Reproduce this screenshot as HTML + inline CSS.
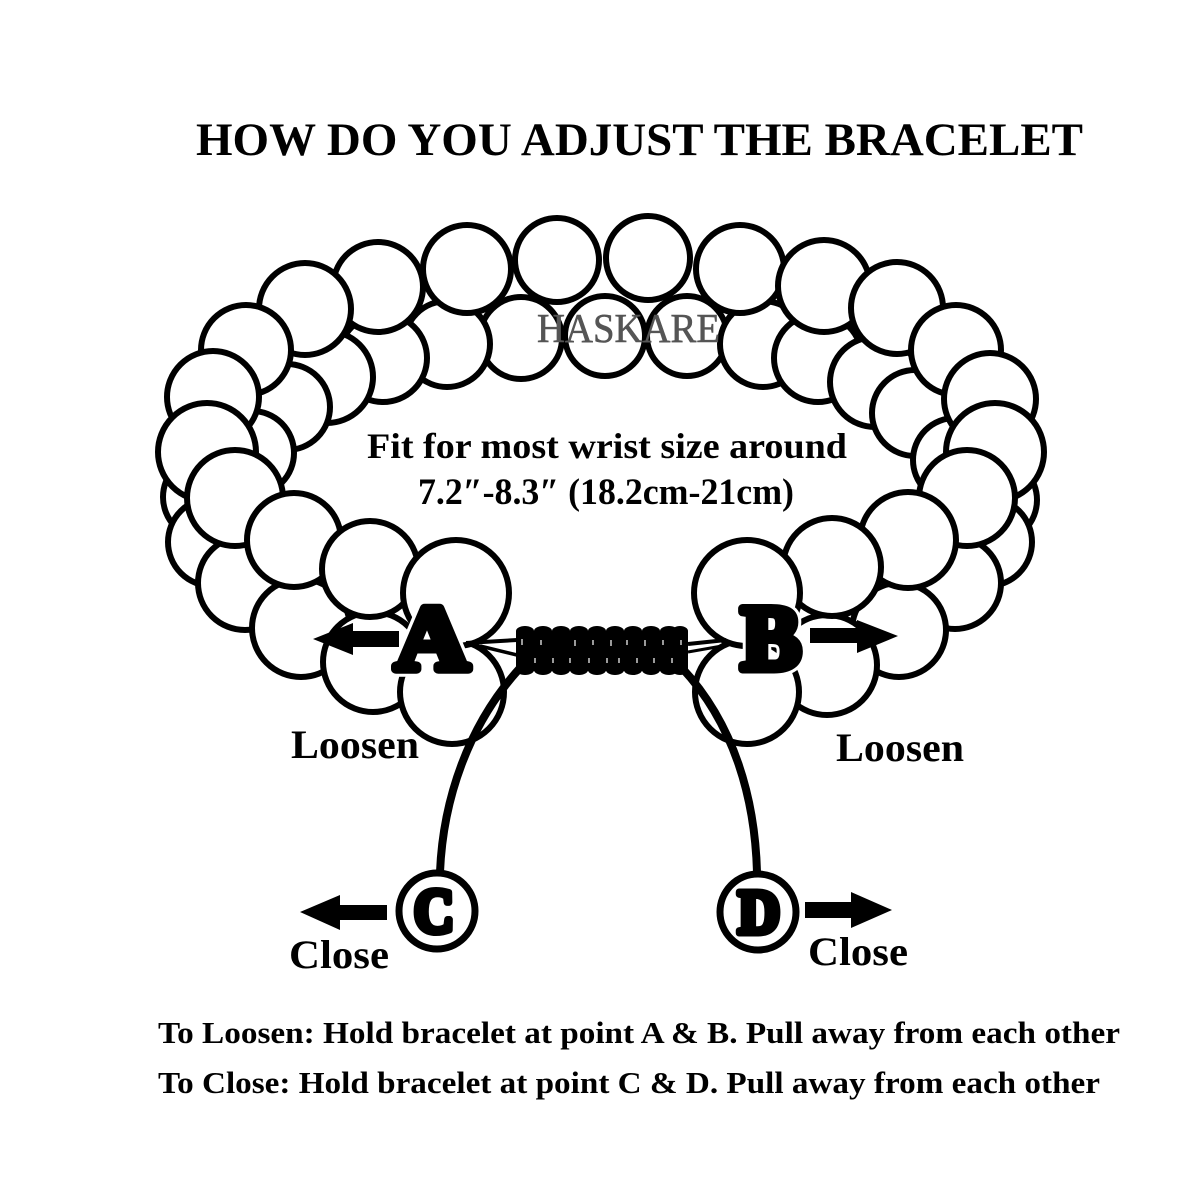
<!DOCTYPE html>
<html>
<head>
<meta charset="utf-8">
<style>
html,body{margin:0;padding:0;background:#fff;width:1200px;height:1200px;overflow:hidden}
svg{display:block}
text{font-family:"Liberation Serif",serif;fill:#000}
.b{fill:#fff;stroke:#000;stroke-width:6}
.t{font-weight:bold}
</style>
</head>
<body>
<svg width="1200" height="1200" viewBox="0 0 1200 1200" xmlns="http://www.w3.org/2000/svg">
<rect width="1200" height="1200" fill="#fff"/>
<text class="t" x="196" y="155" font-size="47" textLength="887" lengthAdjust="spacingAndGlyphs">HOW DO YOU ADJUST THE BRACELET</text>

<!-- back row left -->
<g>
<circle class="b" cx="521" cy="338" r="41"/>
<circle class="b" cx="447" cy="344" r="43"/>
<circle class="b" cx="383" cy="358" r="44"/>
<circle class="b" cx="327" cy="377" r="46"/>
<circle class="b" cx="287" cy="407" r="43"/>
<circle class="b" cx="252" cy="453" r="42"/>
<circle class="b" cx="205" cy="497" r="42"/>
<circle class="b" cx="212" cy="542" r="44"/>
<circle class="b" cx="245" cy="583" r="47"/>
<circle class="b" cx="301" cy="628" r="49"/>
<circle class="b" cx="373" cy="662" r="50"/>
<circle class="b" cx="452" cy="692" r="52"/>
</g>
<!-- back row right -->
<g>
<circle class="b" cx="605" cy="336" r="40"/>
<circle class="b" cx="687" cy="336" r="40"/>
<circle class="b" cx="763" cy="344" r="43"/>
<circle class="b" cx="818" cy="358" r="44"/>
<circle class="b" cx="875" cy="382" r="45"/>
<circle class="b" cx="915" cy="413" r="43"/>
<circle class="b" cx="955" cy="460" r="42"/>
<circle class="b" cx="995" cy="500" r="42"/>
<circle class="b" cx="988" cy="542" r="44"/>
<circle class="b" cx="955" cy="583" r="46"/>
<circle class="b" cx="899" cy="630" r="47"/>
<circle class="b" cx="827" cy="665" r="50"/>
<circle class="b" cx="747" cy="692" r="52"/>
</g>
<!-- front row left -->
<g>
<circle class="b" cx="378" cy="287" r="45"/>
<circle class="b" cx="467" cy="269" r="44"/>
<circle class="b" cx="557" cy="260" r="42"/>
<circle class="b" cx="305" cy="309" r="46"/>
<circle class="b" cx="246" cy="350" r="45"/>
<circle class="b" cx="213" cy="397" r="46"/>
<circle class="b" cx="207" cy="452" r="49"/>
<circle class="b" cx="235" cy="498" r="48"/>
<circle class="b" cx="294" cy="540" r="47"/>
<circle class="b" cx="370" cy="569" r="48"/>
<circle class="b" cx="456" cy="593" r="53"/>
</g>
<!-- front row right -->
<g>
<circle class="b" cx="740" cy="269" r="44"/>
<circle class="b" cx="648" cy="258" r="42"/>
<circle class="b" cx="824" cy="286" r="46"/>
<circle class="b" cx="897" cy="308" r="46"/>
<circle class="b" cx="956" cy="350" r="45"/>
<circle class="b" cx="990" cy="399" r="46"/>
<circle class="b" cx="995" cy="452" r="49"/>
<circle class="b" cx="967" cy="498" r="48"/>
<circle class="b" cx="908" cy="540" r="48"/>
<circle class="b" cx="832" cy="567" r="49"/>
<circle class="b" cx="747" cy="593" r="53"/>
</g>

<text x="537" y="342" font-size="41" style="fill:#555" stroke="#555" stroke-width=".6" textLength="183" lengthAdjust="spacingAndGlyphs">HASKARE</text>

<text class="t" x="367" y="458" font-size="36" textLength="480" lengthAdjust="spacingAndGlyphs">Fit for most wrist size around</text>
<text class="t" x="418" y="504" font-size="37" textLength="376" lengthAdjust="spacingAndGlyphs">7.2″-8.3″ (18.2cm-21cm)</text>

<!-- thin cords -->
<g stroke="#000" fill="none">
<path d="M466,643 L517,640" stroke-width="4"/>
<path d="M480,646 L517,655" stroke-width="3.5"/>
<path d="M688,644 L726,640" stroke-width="4"/>
<path d="M688,652 L722,646" stroke-width="3"/>
</g>

<!-- pull cords -->
<path d="M440,872 C443,800 468,725 520,668" fill="none" stroke="#000" stroke-width="8"/>
<path d="M757,872 C755,800 735,725 682,668" fill="none" stroke="#000" stroke-width="8"/>

<!-- knot -->
<g fill="#000">
<rect x="516" y="631" width="172" height="40"/>
<ellipse cx="525" cy="631" rx="9" ry="5"/><ellipse cx="543" cy="631" rx="9" ry="5"/><ellipse cx="561" cy="631" rx="9" ry="5"/><ellipse cx="579" cy="631" rx="9" ry="5"/><ellipse cx="597" cy="631" rx="9" ry="5"/><ellipse cx="615" cy="631" rx="9" ry="5"/><ellipse cx="633" cy="631" rx="9" ry="5"/><ellipse cx="651" cy="631" rx="9" ry="5"/><ellipse cx="669" cy="631" rx="9" ry="5"/><ellipse cx="680" cy="631" rx="8" ry="5"/>
<ellipse cx="525" cy="670" rx="9" ry="5"/><ellipse cx="543" cy="670" rx="9" ry="5"/><ellipse cx="561" cy="670" rx="9" ry="5"/><ellipse cx="579" cy="670" rx="9" ry="5"/><ellipse cx="597" cy="670" rx="9" ry="5"/><ellipse cx="615" cy="670" rx="9" ry="5"/><ellipse cx="633" cy="670" rx="9" ry="5"/><ellipse cx="651" cy="670" rx="9" ry="5"/><ellipse cx="669" cy="670" rx="9" ry="5"/><ellipse cx="680" cy="670" rx="8" ry="5"/>
</g>
<g stroke="#eee" stroke-width="1.3">
<path d="M522,639v6M541,640v5M575,640v6M593,640v5M611,640v6M627,640v5M645,640v6M663,640v5M681,640v5"/>
<path d="M535,658v5M553,658v5M570,658v5M589,658v5M607,658v5M619,658v5M637,658v5M654,658v5M672,658v5"/>
</g>

<!-- A / B letters -->
<text class="t" x="432" y="669" font-size="92" text-anchor="middle" stroke="#fff" stroke-width="15" stroke-linejoin="round" style="fill:#fff" textLength="74" lengthAdjust="spacingAndGlyphs">A</text>
<text class="t" x="432" y="669" font-size="92" text-anchor="middle" stroke="#000" stroke-width="9" stroke-linejoin="round" textLength="74" lengthAdjust="spacingAndGlyphs">A</text>
<text class="t" x="771" y="669" font-size="92" text-anchor="middle" stroke="#fff" stroke-width="15" stroke-linejoin="round" style="fill:#fff" textLength="60" lengthAdjust="spacingAndGlyphs">B</text>
<text class="t" x="771" y="669" font-size="92" text-anchor="middle" stroke="#000" stroke-width="9" stroke-linejoin="round" textLength="60" lengthAdjust="spacingAndGlyphs">B</text>

<!-- arrows -->
<polygon points="313,639 353,623 353,631 399,631 399,647 353,647 353,655" fill="#000"/>
<polygon points="898,636 857,620 857,628 810,628 810,643 857,643 857,653" fill="#000"/>
<polygon points="300,912 340,895 340,905 387,905 387,920 340,920 340,930" fill="#000"/>
<polygon points="892,910 851,892 851,902 805,902 805,918 851,918 851,928" fill="#000"/>

<!-- C / D badges -->
<circle cx="437" cy="911" r="38" fill="#fff" stroke="#000" stroke-width="7"/>
<circle cx="758" cy="912" r="38" fill="#fff" stroke="#000" stroke-width="7"/>
<text class="t" x="434" y="932" font-size="62" text-anchor="middle" stroke="#000" stroke-width="7" stroke-linejoin="round" textLength="40" lengthAdjust="spacingAndGlyphs">C</text>
<text class="t" x="759" y="933" font-size="62" text-anchor="middle" stroke="#000" stroke-width="7" stroke-linejoin="round" textLength="42" lengthAdjust="spacingAndGlyphs">D</text>

<text class="t" x="291" y="758" font-size="40" textLength="128" lengthAdjust="spacingAndGlyphs">Loosen</text>
<text class="t" x="836" y="761" font-size="40" textLength="128" lengthAdjust="spacingAndGlyphs">Loosen</text>
<text class="t" x="289" y="968" font-size="40" textLength="100" lengthAdjust="spacingAndGlyphs">Close</text>
<text class="t" x="808" y="965" font-size="40" textLength="100" lengthAdjust="spacingAndGlyphs">Close</text>

<text class="t" x="158" y="1043" font-size="31" textLength="962" lengthAdjust="spacingAndGlyphs">To Loosen: Hold bracelet at point A &amp; B. Pull away from each other</text>
<text class="t" x="158" y="1093" font-size="31" textLength="942" lengthAdjust="spacingAndGlyphs">To Close: Hold bracelet at point C &amp; D. Pull away from each other</text>
</svg>
</body>
</html>
